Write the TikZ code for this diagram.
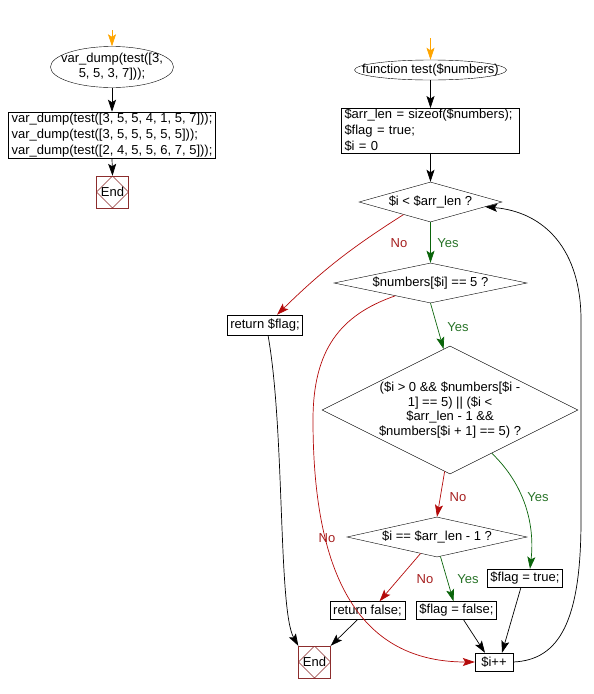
\documentclass[tikz,border=0pt]{standalone}
\usepackage{fontspec}
\setmainfont{Liberation Sans}
\usepackage{tikz}
\usetikzlibrary{arrows.meta,shapes.geometric,positioning}
\definecolor{noline}{RGB}{180,10,10}
\definecolor{notext}{RGB}{165,30,30}
\definecolor{yesline}{RGB}{10,100,10}
\definecolor{yestext}{RGB}{40,115,40}
\definecolor{endred}{RGB}{140,45,45}
\definecolor{entryorange}{RGB}{255,165,0}
\tikzset{
  process/.style={draw,rectangle,inner xsep=3pt,inner ysep=1pt,minimum height=18pt},
  decision/.style={draw,diamond,inner sep=0pt,align=center},
  terminal/.style={rectangle,inner sep=0pt,align=center},
  endbox/.style={
    draw=endred,rectangle,minimum width=32pt,minimum height=32pt,inner sep=0pt,
    path picture={\draw[endred] (path picture bounding box.north) -- (path picture bounding box.east)
      -- (path picture bounding box.south) -- (path picture bounding box.west) -- cycle;}
  },
  flow/.style={-{Stealth[length=12pt,width=8pt,inset=2.5pt]},line width=0.7pt},
  entry/.style={flow,entryorange},
  yesflow/.style={flow,yesline},
  noflow/.style={flow,noline},
  yeslbl/.style={text=yestext},
  nolbl/.style={text=notext}
}
\begin{document}
\begin{tikzpicture}[x=1pt,y=-1pt,font=\fontsize{13}{16}\selectfont]
  \useasboundingbox (0,0) rectangle (594,694);

  \coordinate (in1) at (112,30);
  \node[terminal,minimum width=123pt,minimum height=41pt,font=\fontsize{13}{15}\selectfont] (dump1) at (112,67) {var\_dump(test([3,\\5, 5, 3, 7]));};
  \draw (dump1.center) ellipse [x radius=61.5pt,y radius=20.5pt];
  \node[process,align=left] (calls) at (112,135) {var\_dump(test([3, 5, 5, 4, 1, 5, 7]));\\var\_dump(test([3, 5, 5, 5, 5, 5]));\\var\_dump(test([2, 4, 5, 5, 6, 7, 5]));};
  \node[endbox] (end1) at (112.5,192) {End};

  \coordinate (in2) at (430.5,38);
  \node[terminal,minimum width=152pt,minimum height=20pt] (func) at (430.5,70) {function test(\$numbers)};
  \draw (func.center) ellipse [x radius=76pt,y radius=10pt];
  \node[process,align=left,text width=172pt] (init) at (430.5,130.5) {\$arr\_len = sizeof(\$numbers);\\\$flag = true;\\\$i = 0};
  \node[decision,aspect=3.6,minimum width=143pt,minimum height=40pt] (d1) at (430.5,202) {\$i < \$arr\_len ?};
  \node[decision,aspect=4.8,minimum width=193pt,minimum height=40pt] (d2) at (430.5,283) {\$numbers[\$i] == 5 ?};
  \node[decision,aspect=2,minimum width=256pt,minimum height=128pt,font=\fontsize{13}{14.5}\selectfont] (d3) at (450,410) {(\$i > 0 \&\& \$numbers[\$i -\\1] == 5) || (\$i <\\\$arr\_len - 1 \&\&\\\$numbers[\$i + 1] == 5) ?};
  \node[decision,aspect=4.5,minimum width=180pt,minimum height=40pt] (d4) at (437,537) {\$i == \$arr\_len - 1 ?};
  \node[process,minimum height=20pt] (retflag) at (265,325) {return \$flag;};
  \node[process] (retfalse) at (367.5,610.5) {return false;};
  \node[process] (flagfalse) at (456.5,610.5) {\$flag = false;};
  \node[process] (flagtrue) at (525,578) {\$flag = true;};
  \node[process,minimum width=38pt] (inc) at (494,662) {\$i++};
  \node[endbox] (end2) at (314.5,662) {End};

  \node[nolbl] (no1) at (399,243) {No};
  \node[yeslbl] (yes1) at (448,243) {Yes};
  \node[yeslbl] (yes2) at (458,327) {Yes};
  \node[nolbl] (no2) at (327,538) {No};
  \node[nolbl] (no3) at (458,497) {No};
  \node[yeslbl] (yes3) at (538,497) {Yes};
  \node[nolbl] (no4) at (425,579) {No};
  \node[yeslbl] (yes4) at (468,579) {Yes};

  \draw[entry] (in1) -- (dump1.north);
  \draw[flow] (dump1.south) -- (calls.north);
  \draw[flow] (calls.south) -- (end1.north);

  \draw[entry] (in2) -- (func.north);
  \draw[flow] (func.south) -- (init.north);
  \draw[flow] (init.south) -- (d1.north);
  \draw[yesflow] (d1.south) -- (d2.north);
  \draw[noflow] (d1.-155) to[bend right=6] ([xshift=12pt]retflag.north);
  \draw[yesflow] (d2.south) -- (d3.96);
  \draw[noflow] (d2.-160) .. controls (340,315) and (313,350) .. (313,420)
    .. controls (313,560) and (350,662) .. (inc.west);
  \draw[noflow] (d3.-95) -- (d4.north);
  \draw[yesflow] (d3.-46) .. controls (525,485) and (535,525) .. ([xshift=5pt]flagtrue.north);
  \draw[noflow] (d4.-135) -- ([xshift=12pt]retfalse.north);
  \draw[yesflow] (d4.-80) -- ([xshift=-3pt]flagfalse.north);
  \draw[flow] ([xshift=3pt]retflag.south) .. controls (285,430) and (278,610) .. (end2.north west);
  \draw[flow] ([xshift=-10pt]retfalse.south) -- (end2.north east);
  \draw[flow] ([xshift=7pt]flagfalse.south) -- ([xshift=-9pt]inc.north);
  \draw[flow] ([xshift=-4pt]flagtrue.south) -- ([xshift=8pt]inc.north);
  \draw[flow] (inc.east) .. controls (560,660) and (581,620) .. (581,520) -- (581,320)
    .. controls (581,250) and (545,212) .. (d1.-5);
\end{tikzpicture}
\end{document}
